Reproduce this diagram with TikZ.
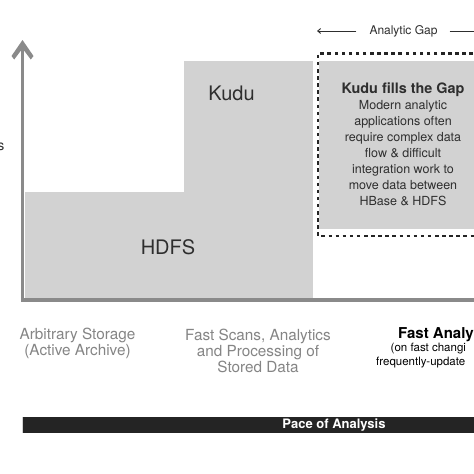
\documentclass[tikz,border=0pt]{standalone}
\usepackage{fontspec}
\setmainfont{TeX Gyre Heros}
\usetikzlibrary{arrows.meta}
\definecolor{boxgray}{HTML}{D2D2D2}
\definecolor{axisgray}{HTML}{8A8A8A}
\definecolor{txtdark}{HTML}{2E2E2E}
\definecolor{lblgray}{HTML}{858585}
\definecolor{barblack}{HTML}{242424}
\tikzset{
  axisline/.style={draw=axisgray, line width=3.8pt},
  region/.style={fill=boxgray, draw=none},
  bigtext/.style={font=\fontsize{20}{22}\selectfont, text=txtdark, inner sep=0pt},
  lbltext/.style={font=\fontsize{15.3}{16}\selectfont, text=lblgray, align=center, inner sep=0pt},
  gapborder/.style={draw=barblack, line width=2.6pt, dash pattern=on 3.5pt off 3.6pt},
}
\begin{document}
\begin{tikzpicture}[x=1pt,y=-1pt]
\useasboundingbox (0,0) rectangle (474,474);
\fill[white] (0,0) rectangle (474,474);
% regions
\fill[region] (184,61) rectangle (313,193);
\fill[region] (25,192) rectangle (313,299);
\fill[region] (319,61) rectangle (480,229);
% gap border
\draw[gapborder] (480,53.5) -- (318,53.5) -- (318,236) -- (480,236);
% axes
\coordinate (origin) at (22.5,300);
\coordinate (ytop) at (22.5,49);
\coordinate (xend) at (480,300);
\draw[axisline] (ytop) -- (origin) -- (xend);
\fill[axisgray] (22.5,40) -- (33.5,56) -- (30.8,59.5) -- (22.5,48.5) -- (14.2,59.5) -- (11.5,56) -- cycle;
% texts
\node[bigtext] (kudu) at (231.5,93) {Kudu};
\node[bigtext] (hdfs) at (168,247) {HDFS};
\node[font=\fontsize{14.4}{16}\selectfont\bfseries, text=txtdark, inner sep=0pt] (gaptitle) at (403,90) {Kudu fills the Gap};
\node[font=\fontsize{12.5}{16}\selectfont, text=txtdark, align=center, inner sep=0pt, anchor=north] (gapbody) at (403,100)
  {Modern analytic\\applications often\\require complex data\\flow \& difficult\\integration work to\\move data between\\HBase \& HDFS};
% analytic gap
\node[font=\fontsize{12}{14}\selectfont, text=txtdark, inner sep=0pt] (gaplabel) at (403.5,31) {Analytic Gap};
\coordinate (gapl) at (317,31);
\coordinate (gapr) at (480,31);
\draw[txtdark, line width=0.9pt, -{Straight Barb[length=3pt,width=5pt]}] ([xshift=-13pt]gaplabel.west) -- (gapl);
\draw[txtdark, line width=0.9pt] ([xshift=12pt]gaplabel.east) -- (gapr);
% left clipped label
\node[font=\fontsize{14}{16}\selectfont, text=txtdark, inner sep=0pt, anchor=east] (ylab) at (4.5,147) {s};
% category labels
\node[lbltext] (cat1) at (77.5,343) {Arbitrary Storage\\(Active Archive)};
\node[lbltext] (cat2) at (258,351) {Fast Scans, Analytics\\and Processing of\\Stored Data};
\node[font=\fontsize{15}{16}\selectfont\bfseries, text=black, inner sep=0pt, anchor=west] (cat3) at (398,335) {Fast Analyt};
\node[font=\fontsize{11.5}{13}\selectfont, text=black, inner sep=0pt, anchor=west] (cat3b) at (390.5,349) {(on fast changi};
\node[font=\fontsize{11.5}{13}\selectfont, text=black, inner sep=0pt, anchor=west] (cat3c) at (376,362.5) {frequently-update};
% bar
\fill[barblack] (22.5,416.5) rectangle (480,433);
\draw[boxgray, line width=0.6pt] (22.5,416.5) -- (22.5,433);
\node[font=\fontsize{13}{15}\selectfont\bfseries, text=white, inner sep=0pt] (pace) at (334,425) {Pace of Analysis};
\end{tikzpicture}
\end{document}
